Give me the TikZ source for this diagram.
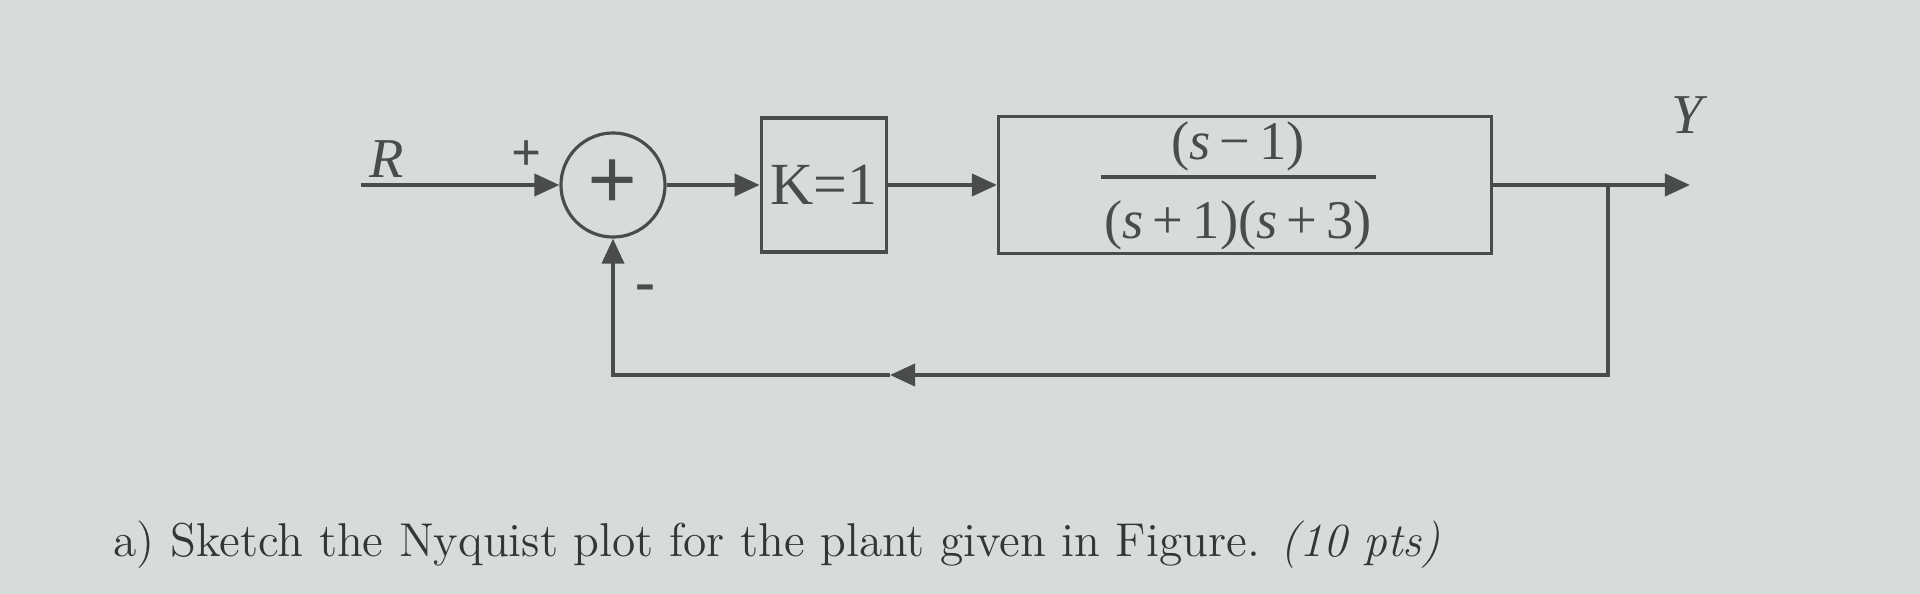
\documentclass[tikz,border=0pt]{standalone}
\usepackage{fontspec}
\newfontfamily\tnr{Liberation Serif}
\usepackage{tikz}
\usetikzlibrary{positioning,arrows.meta}
\definecolor{paper}{RGB}{215,220,219}
\definecolor{ink}{RGB}{74,76,76}

\begin{document}
\begin{tikzpicture}[
  x=0.01cm, y=-0.01cm,
  node distance=9.3mm,
  block/.style={
    rectangle, draw=ink, line width=0.9pt,
    text=ink, font=\tnr\fontsize{17}{20}\selectfont,
    minimum height=13.4mm, inner sep=0pt
  },
  sumjunc/.style={
    circle, draw=ink, line width=0.9pt,
    text=ink, minimum size=10.4mm, inner sep=0pt
  },
  fracpart/.style={text=ink, font=\tnr\fontsize{15.5}{18}\selectfont, inner sep=0pt},
  signal/.style={draw=ink, line width=1.1pt, -{Triangle[length=2.5mm,width=2.2mm]}},
  wire/.style={draw=ink, line width=1.1pt},
  lbl/.style={text=ink, font=\tnr\fontsize{16}{18}\selectfont}
]

\fill[paper] (0,0) rectangle (1920,594);
\useasboundingbox (0,0) rectangle (1920,594);

% =====================================================
% FORWARD PATH
% =====================================================

\coordinate (rin) at (361,185);

\node[sumjunc] (sum) at (613,185) {\tnr\fontsize{25}{25}\selectfont\bfseries +};

\node[block, minimum width=12.5mm, right=9.3mm of sum] (gain) {K=1};

\node[block, minimum width=49.3mm, minimum height=13.7mm, right=10.9mm of gain] (plant) {};

% fraction inside the plant block
\node[fill=ink, minimum width=27.5mm, minimum height=1.1pt, inner sep=0pt]
  (fracbar) at ([xshift=-0.7mm,yshift=0.8mm]plant.center) {};
\node[fracpart, above=0.3mm of fracbar] (num) {(\textit{s}\,−\,1)};
\node[fracpart, below=2.0mm of fracbar] (den) {(\textit{s}\,+\,1)(\textit{s}\,+\,3)};

\coordinate (branch) at (1608,185);
\coordinate (yout) at (1690,185);

\draw[signal] (rin) -- (sum);
\draw[signal] (sum) -- (gain);
\draw[signal] (gain) -- (plant);
\draw[wire] (plant) -- (branch);
\draw[signal] (branch) -- (yout);

\node[lbl, font=\tnr\itshape\fontsize{16}{18}\selectfont] (rlabel) at (387,159) {R};
\node[lbl, font=\tnr\itshape\fontsize{16}{18}\selectfont] (ylabel) at (1687,115) {Y};
\node[lbl, font=\tnr\bfseries\fontsize{15}{17}\selectfont] (plus) at (527,156) {+};

% =====================================================
% FEEDBACK
% =====================================================

\coordinate (fbarrow) at (890,375);

\draw[signal] (branch) |- (fbarrow);
\draw[signal] (fbarrow) -| (sum.south);

\node[lbl, font=\tnr\bfseries\fontsize{17}{19}\selectfont] (minus) at (645,293) {-};

% =====================================================
% TASK
% =====================================================

\node[anchor=west, inner sep=0pt, text=ink!70!black, font=\fontsize{13.5}{16}\selectfont] (task) at (113,545)
{a) Sketch the Nyquist plot for the plant given in Figure. \textit{(10 pts)}};

\end{tikzpicture}
\end{document}
